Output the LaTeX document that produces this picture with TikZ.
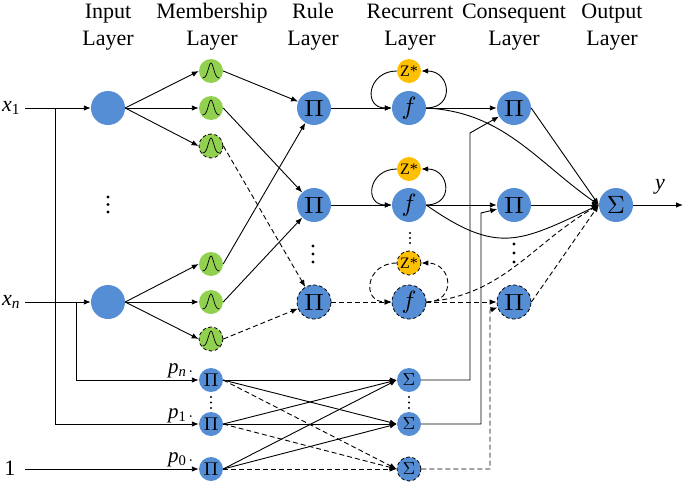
\documentclass[tikz,border=0pt]{standalone}
\usepackage[no-math]{fontspec}
\setmainfont{Liberation Serif}
\usepackage{graphicx}
\usetikzlibrary{arrows.meta}
\definecolor{nblue}{RGB}{85,142,213}
\definecolor{ngreen}{RGB}{146,208,80}
\definecolor{nyellow}{RGB}{255,192,0}
\newcommand{\BPi}{\scalebox{2.65}[2.35]{$\Pi$}}
\newcommand{\BSig}{\scalebox{2.5}[2.5]{$\Sigma$}}
\newcommand{\Bf}{\scalebox{2.5}{$f$}}
\newcommand{\SPi}{\scalebox{2}[1.85]{$\Pi$}}
\newcommand{\SSig}{\scalebox{1.75}{$\Sigma$}}
\begin{document}
\begin{tikzpicture}[x=1pt,y=1pt,
  big/.style={circle,fill=nblue,minimum size=34pt,inner sep=0pt},
  small/.style={circle,fill=nblue,minimum size=24pt,inner sep=0pt},
  mem/.style={circle,fill=ngreen,minimum size=24pt,inner sep=0pt},
  zst/.style={circle,fill=nyellow,minimum size=24pt,inner sep=0pt,font=\fontsize{16}{16}\selectfont},
  dnode/.style={draw=black,line width=0.8pt,dash pattern=on 3.5pt off 2.5pt},
  conn/.style={line width=0.9pt,-{Latex[length=7pt,width=5.5pt]}},
  dsh/.style={dash pattern=on 5pt off 3pt},
  lbl/.style={font=\fontsize{22}{27}\selectfont,align=center,anchor=north,inner sep=0pt},
  txt/.style={font=\fontsize{22}{27}\selectfont,inner sep=0pt},
  ptxt/.style={font=\fontsize{21}{25}\selectfont,inner sep=0pt,anchor=base east},
]
\useasboundingbox (0,0) rectangle (685,-482);

% layer titles
\node[lbl] (L1) at (108,-3.5) {Input\\Layer};
\node[lbl] (L2) at (212,-3.5) {Membership\\Layer};
\node[lbl] (L3) at (313,-3.5) {Rule\\Layer};
\node[lbl] (L4) at (410,-3.5) {Recurrent\\Layer};
\node[lbl] (L5) at (514,-3.5) {Consequent\\Layer};
\node[lbl] (L6) at (612,-3.5) {Output\\Layer};

% input labels
\node[txt] (tx1) at (11,-108) {\textit{x}\textsubscript{1}};
\node[txt] (txn) at (11,-302) {\textit{x}\textsubscript{\textit{n}}};
\node[txt] (tone) at (10,-468) {1};
\node[txt] (ty) at (660,-187) {\textit{y}};
\node[ptxt] (tpn) at (194,-373) {\textit{p}\textsubscript{\textit{n}\,·}};
\node[ptxt] (tp1) at (194,-418) {\textit{p}\textsubscript{1\,·}};
\node[ptxt] (tp0) at (194,-462) {\textit{p}\textsubscript{0\,·}};

% nodes
\node[big] (I1) at (108,-108) {};
\node[big] (I2) at (108,-302) {};
\node[mem] (m1) at (211,-71) {};
\node[mem] (m2) at (211,-108) {};
\node[mem,dnode] (m3) at (211,-146) {};
\node[mem] (m4) at (211,-264) {};
\node[mem] (m5) at (211,-302) {};
\node[mem,dnode] (m6) at (211,-339) {};
\foreach \m in {m1,m2,m3,m4,m5,m6}
  \draw[line width=0.7pt,shift={(\m)}] plot[domain=-8.5:8.5,samples=41,smooth] (\x,{-7+15*exp(-(\x*\x)/14)});

\node[big] (R1) at (314,-108) {\BPi};
\node[big] (R2) at (314,-205) {\BPi};
\node[big,dnode] (R3) at (314,-302) {\BPi};
\node[zst] (Z1) at (409,-71) {Z*};
\node[zst] (Z2) at (409,-169) {Z*};
\node[zst,dnode] (Z3) at (409,-263) {Z*};
\node[big] (F1) at (409,-108) {\Bf};
\node[big] (F2) at (409,-205) {\Bf};
\node[big,dnode] (F3) at (409,-302) {\Bf};
\node[big] (C1) at (514,-108) {\BPi};
\node[big] (C2) at (514,-205) {\BPi};
\node[big,dnode] (C3) at (514,-302) {\BPi};
\node[big] (S) at (616,-205) {\BSig};
\node[small] (Pn) at (211,-380) {\SPi};
\node[small] (P1) at (211,-424) {\SPi};
\node[small] (P0) at (211,-469) {\SPi};
\node[small] (Sn) at (409,-380) {\SSig};
\node[small] (S1) at (409,-424) {\SSig};
\node[small,dnode] (S0) at (409,-469) {\SSig};

% vertical dots
\foreach \x/\y in {108/197,108/204.5,108/212, 313/246,313/254,313/262, 514/244,514/253,514/262}
  \fill (\x,-\y) circle (1.7pt);
\foreach \x/\y in {410/233,410/238,410/243, 211/397,211/402.5,211/408, 409/397,409/402.5,409/408}
  \fill (\x,-\y) circle (1.2pt);

% coordinates
\coordinate (x1s) at (25,-108);
\coordinate (xns) at (25,-302);
\coordinate (ones) at (25,-469);
\coordinate (b1) at (55,-108);
\coordinate (b1d) at (55,-424);
\coordinate (b2) at (76,-302);
\coordinate (b2d) at (76,-380);
\coordinate (ye) at (683,-205);
\coordinate (q1a) at (470,-380);
\coordinate (q1b) at (470,-133);
\coordinate (q2a) at (481,-424);
\coordinate (q2b) at (481,-213);
\coordinate (q3a) at (490,-469);
\coordinate (q3b) at (490,-310);

% inputs
\draw[conn] (x1s) -- (I1.west);
\draw[conn] (xns) -- (I2.west);
\draw[conn] (ones) -- (P0.west);
\draw[conn] (b1) -- (b1d) -- (P1.west);
\draw[conn] (b2) -- (b2d) -- (Pn.west);

% input -> membership
\draw[conn] (I1.east) -- (m1.west);
\draw[conn] (I1.east) -- (m2.west);
\draw[conn] (I1.east) -- (m3.west);
\draw[conn] (I2.east) -- (m4.west);
\draw[conn] (I2.east) -- (m5.west);
\draw[conn] (I2.east) -- (m6.west);

% membership -> rule
\draw[conn] (m1.east) -- (R1);
\draw[conn] (m2.east) -- (R2);
\draw[conn,dsh] (m3.east) -- (R3);
\draw[conn] (m4.east) -- (R1);
\draw[conn] (m5.east) -- (R2);
\draw[conn,dsh] (m6.east) -- (R3);

% rule -> recurrent
\draw[conn] (R1.east) -- (F1.west);
\draw[conn] (R2.east) -- (F2.west);
\draw[conn,dsh] (R3.east) -- (F3.west);

% loops
\draw[conn] (Z1.west) to[out=180,in=180,looseness=2] (F1.west);
\draw[conn] (F1.east) to[out=0,in=0,looseness=2] (Z1.east);
\draw[conn] (Z2.west) to[out=180,in=180,looseness=2] (F2.west);
\draw[conn] (F2.east) to[out=0,in=0,looseness=2] (Z2.east);
\draw[conn,dsh] (Z3.west) to[out=180,in=180,looseness=2] (F3.west);
\draw[conn,dsh] (F3.east) to[out=0,in=0,looseness=2] (Z3.east);

% recurrent -> consequent
\draw[conn] (F1.east) -- (C1.west);
\draw[conn] (F2.east) -- (C2.west);
\draw[conn,dsh] (F3.east) -- (C3.west);

% recurrent -> output
\draw[conn] (F1.east) to[out=-3,in=145] (S.west);
\draw[conn] (F2.east) to[out=-35,in=-155,looseness=1.3] (S.west);
\draw[conn,dsh] (F3.east) to[out=5,in=-150] (S.west);

% consequent -> output
\draw[conn] (C1.east) -- (S.west);
\draw[conn] (C2.east) -- (S.west);
\draw[conn,dsh] (C3.east) -- (S.west);
\draw[conn] (S.east) -- (ye);

% bottom crossing
\draw[conn] (Pn.east) -- (Sn.west);
\draw[conn] (Pn.east) -- (S1.west);
\draw[conn,dsh] (Pn.east) -- (S0.west);
\draw[conn] (P1.east) -- (Sn.west);
\draw[conn] (P1.east) -- (S1.west);
\draw[conn,dsh] (P1.east) -- (S0.west);
\draw[conn] (P0.east) -- (Sn.west);
\draw[conn] (P0.east) -- (S1.west);
\draw[conn,dsh] (P0.east) -- (S0.west);

% bottom sums -> consequent
\draw[conn] (Sn.east) -- (q1a) -- (q1b) -- (C1);
\draw[conn] (S1.east) -- (q2a) -- (q2b) -- (C2);
\draw[conn,dsh] (S0.east) -- (q3a) -- (q3b) -- (C3);
\end{tikzpicture}
\end{document}
